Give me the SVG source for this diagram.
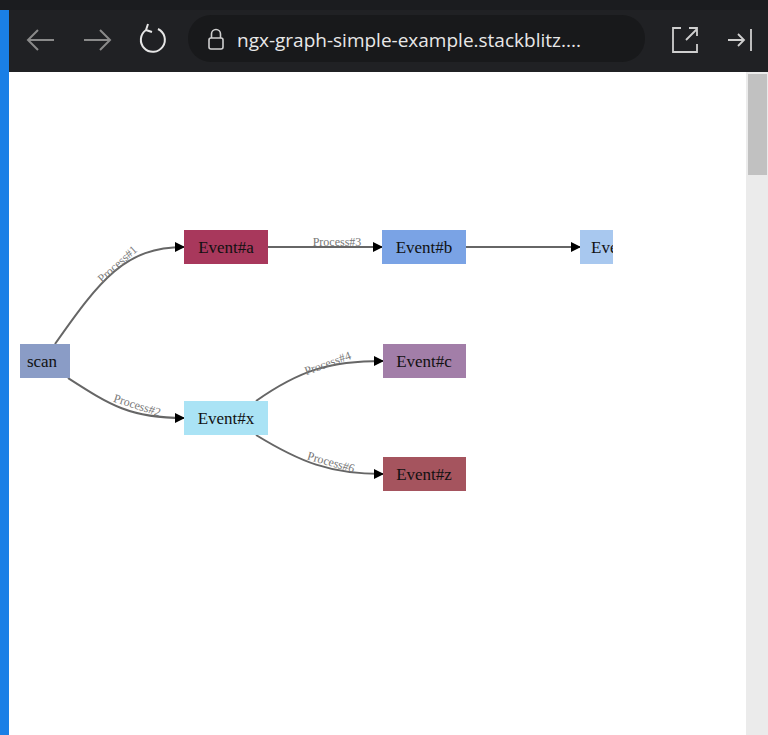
<svg xmlns="http://www.w3.org/2000/svg" width="768" height="735" viewBox="0 0 768 735">
<style>
.nt{font-family:"Liberation Serif",serif;font-size:17px;fill:#111;text-anchor:middle}
.lt{font-family:"Liberation Serif",serif;font-size:12px;fill:#777;text-anchor:middle}
.e{fill:none;stroke:#666;stroke-width:2}
.ic{fill:none;stroke:#8a8a8a;stroke-width:2}
</style>
<defs><marker id="ah" markerWidth="10" markerHeight="10" refX="9" refY="5" orient="auto" markerUnits="userSpaceOnUse"><path d="M0,0L10,5L0,10z" fill="#000"/></marker></defs>
<rect width="768" height="735" fill="#fff"/>
<g id="chrome">
<rect width="768" height="72" fill="#202124"/>
<rect width="768" height="10" fill="#1b1c1f"/>
<rect x="0" y="10" width="9" height="725" fill="#1a7fe6"/>
<rect x="188" y="15" width="457" height="47" rx="23" fill="#18191b"/>
<path class="ic" d="M54,40H28M38,30L28,40L38,50"/>
<path class="ic" d="M84,40H110M100,30L110,40L100,50"/>
<path d="M146,30A12,12 0 1 0 158,29M148,24L146,30L152,32" fill="none" stroke="#e6e6e6" stroke-width="2"/>
<rect x="209" y="38" width="14" height="11" rx="2" fill="none" stroke="#cfcfcf" stroke-width="1.6"/>
<path d="M211.5,38V34A4.5,4.5 0 0 1 220.5,34V38" fill="none" stroke="#cfcfcf" stroke-width="1.6"/>
<text x="237" y="47" font-family="'Open Sans','Noto Sans',sans-serif" font-size="19" fill="#e8e8e8">ngx-graph-simple-example.stackblitz....</text>
<path d="M681,28H673V52H697V44M686,40L697,29M689,28H697V36" fill="none" stroke="#cfcfcf" stroke-width="1.8"/>
<path d="M728,40H744M738,34L744,40L738,46M751,29V51" fill="none" stroke="#cfcfcf" stroke-width="1.8"/>
<rect x="746" y="72" width="22" height="663" fill="#ebebeb"/>
<rect x="748" y="74" width="19" height="101" fill="#c1c1c1"/>
</g>
<g id="edges">
<path class="e" d="M55,344C100,280 125,247 184,247" marker-end="url(#ah)"/>
<path class="e" d="M68,378C110,405 130,418 184,418" marker-end="url(#ah)"/>
<path class="e" d="M268,247H382" marker-end="url(#ah)"/>
<path class="e" d="M466,247H580" marker-end="url(#ah)"/>
<path class="e" d="M256,401C300,370 330,361 383,361" marker-end="url(#ah)"/>
<path class="e" d="M256,435C300,462 330,474 383,474" marker-end="url(#ah)"/>
<text class="lt" transform="translate(120,267) rotate(-42)">Process#1</text>
<text class="lt" transform="translate(136,409) rotate(18)">Process#2</text>
<text class="lt" x="337" y="246">Process#3</text>
<text class="lt" transform="translate(329,367) rotate(-20)">Process#4</text>
<text class="lt" transform="translate(330,466) rotate(16)">Process#6</text>
</g>
<g id="n-scan"><rect x="20" y="344" width="50" height="34" fill="#8a9cc6"/><text class="nt" x="42" y="367">scan</text></g>
<g id="n-a"><rect x="184" y="230" width="84" height="34" fill="#a8385c"/><text class="nt" x="226" y="253">Event#a</text></g>
<g id="n-b"><rect x="382" y="230" width="84" height="34" fill="#7aa3e5"/><text class="nt" x="424" y="253">Event#b</text></g>
<g id="n-e"><svg x="580" y="230" width="33" height="34"><rect width="84" height="34" fill="#a8c8ef"/><text class="nt" x="11" y="23" style="text-anchor:start">Event#e</text></svg></g>
<g id="n-c"><rect x="383" y="344" width="83" height="34" fill="#a27ea8"/><text class="nt" x="424" y="367">Event#c</text></g>
<g id="n-x"><rect x="184" y="401" width="84" height="34" fill="#aae3f5"/><text class="nt" x="226" y="424">Event#x</text></g>
<g id="n-z"><rect x="383" y="457" width="83" height="34" fill="#a5545e"/><text class="nt" x="424" y="480">Event#z</text></g>
</svg>
